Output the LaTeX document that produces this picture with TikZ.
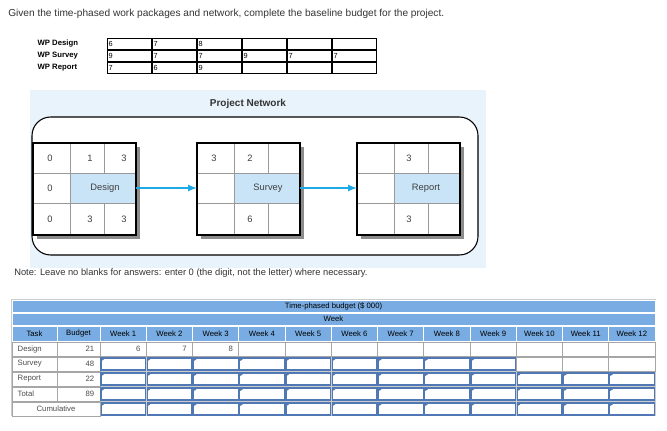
\documentclass[tikz,border=0pt]{standalone}
\usepackage{fontspec}
\setmainfont{Liberation Sans}
\usetikzlibrary{positioning, calc}
\definecolor{netBg}{RGB}{232,243,252}
\definecolor{cellBlue}{RGB}{200,228,246}
\definecolor{arrowCyan}{RGB}{30,170,230}
\definecolor{headBlue}{RGB}{120,172,226}
\definecolor{inBlue}{RGB}{80,120,180}
\tikzset{
    wpText/.style={font=\fontsize{5.5}{6}\selectfont, anchor=west, inner sep=1pt},
    netText/.style={font=\fontsize{7}{8}\selectfont, text=black!75},
    netArrow/.style={->, >=latex, arrowCyan, line width=1.3pt},
    headCell/.style={fill=headBlue, draw=white, line width=0.6pt},
    headText/.style={font=\fontsize{5.8}{6}\selectfont},
    plainCell/.style={draw=black!35, line width=0.4pt, fill=white},
    inCell/.style={draw=inBlue, line width=0.9pt, fill=white},
}
\newcommand{\netBox}[2]{% left x, name
    \fill[black!45] (#1+4,147) rectangle (#1+107,239);
    \fill[white] (#1,143) rectangle (#1+103,235);
    \fill[cellBlue] (#1+37,173) rectangle (#1+103,203);
    \draw[black!40, line width=0.4pt] (#1+37,143) -- (#1+37,173) (#1+71,143) -- (#1+71,173)
        (#1+37,203) -- (#1+37,235) (#1+71,203) -- (#1+71,235)
        (#1,173) -- (#1+103,173) (#1,203) -- (#1+103,203) (#1+37,173) -- (#1+37,203);
    \draw[line width=1pt] (#1,143) rectangle (#1+103,235);
    \coordinate (#2W) at (#1,188);
    \coordinate (#2E) at (#1+103,188);
}
\begin{document}
\begin{tikzpicture}[x=0.75pt, y=-0.75pt]
\useasboundingbox (0,0) rectangle (667,431);

% heading
\node[anchor=west, inner sep=0pt, font=\fontsize{7.6}{9}\selectfont, text=black!80] (intro) at (8,14)
    {Given the time-phased work packages and network, complete the baseline budget for the project.};

% work packages
\foreach \lab/\yy/\vals in {WP Design/38/{6,7,8,,,}, WP Survey/50/{9,7,7,9,7,7}, WP Report/62/{7,6,9,,,}} {
    \node[wpText, font=\bfseries\fontsize{5.8}{6}\selectfont] at (36,\yy+6) {\lab};
    \foreach \v [count=\i from 0] in \vals {
        \draw[line width=0.6pt] (107+\i*45,\yy) rectangle (151+\i*45,\yy+11);
        \node[wpText] at (107+\i*45,\yy+5.5) {\v};
    }
}

% project network
\fill[netBg] (30,90) rectangle (486,268);
\node[netText, font=\bfseries\fontsize{7.5}{8}\selectfont, text=black!80] (netTitle) at (248,104) {Project Network};
\draw[line width=0.8pt, rounded corners=14pt, fill=white] (32,117) rectangle (478,255);
\netBox{33}{des}
\netBox{197}{sur}
\netBox{357}{rep}
\foreach \xx/\v in {33/0,73/1,107/3, 197/3,233/2, 392/3} \node[netText] at (\xx+17,158) {\v};
\foreach \xx/\v in {33/0,73/3,107/3, 233/6, 392/3} \node[netText] at (\xx+17,219) {\v};
\node[netText] at (50,188) {0};
\node[netText] at (105,188) {Design};
\node[netText] at (268,188) {Survey};
\node[netText] at (426,188) {Report};
\draw[netArrow] (desE) -- (surW);
\draw[netArrow] (surE) -- (repW);

\node[anchor=west, inner sep=0pt, font=\fontsize{7}{8}\selectfont, text=black!80] (note) at (14,273)
    {Note: Leave no blanks for answers: enter 0 (the digit, not the letter) where necessary.};

% time-phased budget
\fill[black!20] (11,299) rectangle (656,416);
\fill[headCell] (12,300) rectangle (655,312);
\node[headText] at (333.5,306) {Time-phased budget (\$ 000)};
\fill[headCell] (12,313) rectangle (655,325);
\node[headText] at (333.5,319) {Week};
\draw[headCell] (12,326) rectangle (57,341);
\node[headText] at (34.5,333.5) {Task};
\draw[headCell] (57,326) rectangle (100,341);
\node[headText] at (78.5,333.5) {Budget};
\foreach \w in {1,...,12} {
    \draw[headCell] (100+\w*46.25-46.25,326) rectangle (100+\w*46.25,341);
    \node[headText] at (100+\w*46.25-23.1,333.5) {Week \w};
}
\foreach \task/\bud/\yy/\nin in {Design/21/342/0, Survey/48/357/9, Report/22/372/12, Total/89/387/12, /{}/402/12} {
    \draw[plainCell] (12,\yy) rectangle (57,\yy+14);
    \draw[plainCell] (57,\yy) rectangle (100,\yy+14);
    \node[headText, anchor=west, text=black!70] at (13,\yy+7) {\task};
    \node[headText, anchor=east, text=black!70] at (99,\yy+7) {\bud};
    \foreach \w in {1,...,12} {
        \ifnum\w>\nin
            \draw[plainCell] (100+\w*46.25-46.25,\yy) rectangle (100+\w*46.25,\yy+14);
        \else
            \draw[inCell] (101+\w*46.25-46.25,\yy+1) rectangle (99.5+\w*46.25,\yy+13);
            \fill[inBlue] (101+\w*46.25-46.25,\yy+1) -- ++(3,1.5) -- ++(-3,1.5) -- cycle;
        \fi
    }
}
\fill[white] (12.3,402.3) rectangle (99.7,415.7);
\draw[plainCell] (12,402) rectangle (100,416);
\node[headText, text=black!70] at (56,409) {Cumulative};
\foreach \w/\v in {1/6,2/7,3/8} \node[headText, anchor=east, text=black!70] at (99+\w*46.25,349) {\v};

\end{tikzpicture}
\end{document}
